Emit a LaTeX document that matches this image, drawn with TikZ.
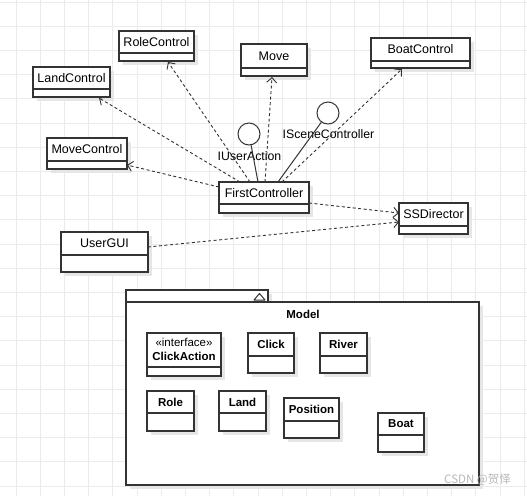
\documentclass[tikz,border=0pt]{standalone}
\usepackage{fontspec}
\setmainfont{Liberation Sans}
\newfontfamily\cjk{Noto Sans CJK SC}
\usetikzlibrary{arrows.meta,calc}
\definecolor{linec}{HTML}{333333}
\definecolor{gridc}{HTML}{EBEBEB}
\definecolor{shadowc}{HTML}{E6E6E6}
\newcommand\umlcls[8][cname]{%
  \fill[shadowc] ({#3+4},{#4+4}) rectangle ({#5+4},{#6+4});
  \node[box, anchor=north west, minimum width={(#5)-(#3)}, minimum height={(#6)-(#4)}] (#2) at (#3,#4) {};
  \draw[boxln] (#3,#7) -- (#5,#7);
  \node[#1] (#2-t) at ({(#3+#5)/2},{(#4+#7)/2}) {#8};
}
\begin{document}
\begin{tikzpicture}[x=1pt,y=-1pt,
  box/.style={draw=linec, fill=white, line width=1.2pt, inner sep=0pt, outer sep=0pt},
  boxln/.style={draw=linec, line width=1.2pt},
  cname/.style={font=\bfseries\fontsize{11.5}{13}\selectfont, text=black, inner sep=0pt},
  cnr/.style={font=\fontsize{12.5}{14}\selectfont, text=black, inner sep=0pt},
  lbl/.style={font=\fontsize{12.3}{14}\selectfont, text=black, inner sep=0pt},
  dep/.style={draw=linec, line width=0.9pt, dash pattern=on 3pt off 2.5pt, -{Straight Barb[length=5pt,width=10pt]}},
  lol/.style={draw=linec, line width=1pt, fill=white, circle, minimum size=22pt, inner sep=0pt},
  gridln/.style={draw=gridc, line width=0.8pt}]
\useasboundingbox (0,0) rectangle (527,496);
\fill[white] (0,0) rectangle (527,496);
% grid
\foreach \i in {0,...,21} \draw[gridln] ({16+24.2*\i},0) -- ({16+24.2*\i},496);
\foreach \j in {0,...,20} \draw[gridln] (0,{2+24.2*\j}) -- (527,{2+24.2*\j});
% classes
\umlcls[cnr]{rc}{119}{31}{194}{61}{53}{RoleControl}
\umlcls[cnr]{lc}{33}{67}{110}{97}{89}{LandControl}
\umlcls[cnr]{mv}{241}{44}{307}{76}{68}{Move}
\umlcls[cnr]{bc}{371}{38}{470}{68}{61}{BoatControl}
\umlcls[cnr]{mc}{47}{138}{127}{169}{161}{MoveControl}
\umlcls[cnr]{fc}{219}{182}{309}{213}{204}{FirstController}
\umlcls[cnr]{ss}{399}{203}{468}{234}{226}{SSDirector}
\umlcls[cnr]{ug}{61}{232}{148}{272}{255}{UserGUI}
% lollipops
\node[lol] (iua) at (249,134) {};
\node[lbl] (iual) at (249.5,156) {IUserAction};
\node[lol] (isc) at (328,113) {};
\node[lbl] (iscl) at (328.5,134) {ISceneController};
\draw[draw=linec, line width=1pt] (iua) -- ($(fc.north west)+(39,0)$);
\draw[draw=linec, line width=1pt] (isc) -- ($(fc.north west)+(59,0)$);
% dependencies
\draw[dep] ($(fc.north west)+(31,0)$) -- ($(rc.south west)+(49,1)$);
\draw[dep] ($(fc.north west)+(21,0)$) -- ($(lc.south west)+(66,1)$);
\draw[dep] ($(fc.north west)+(0,5)$) -- ($(mc.south east)+(0,-4)$);
\draw[dep] ($(fc.north west)+(46,0)$) -- ($(mv.south west)+(31,1)$);
\draw[dep] ($(fc.north west)+(63,0)$) -- ($(bc.south west)+(31,1)$);
\draw[dep] ($(fc.north east)+(0,21)$) -- ($(ss.north west)+(0,10)$);
\draw[dep] ($(ug.north east)+(0,15)$) -- ($(ss.north west)+(0,19)$);
% package
\fill[shadowc] (130,294) rectangle (272,306);
\fill[shadowc] (130,306) rectangle (483,489);
\node[box, anchor=north west, minimum width=142pt, minimum height=12pt] (tab) at (126,290) {};
\node[box, anchor=north west, minimum width=353pt, minimum height=183pt] (pkg) at (126,302) {};
\draw[draw=linec, line width=1pt, line join=round] (254,300) -- (259.5,293.5) -- (265,300) -- cycle;
\node[cname] (pkgl) at (303,314) {Model};
\fill[shadowc] (151,337) rectangle (225,380);
\node[box, anchor=north west, minimum width=74pt, minimum height=43pt] (ca) at (147,333) {};
\draw[boxln] (147,367) -- (221,367);
\node[lbl, font=\fontsize{11.5}{13}\selectfont] (ca-s) at (184,342) {«interface»};
\node[cname] (ca-t) at (184,356) {ClickAction};
\umlcls{ck}{248}{333}{294}{373}{356}{Click}
\umlcls{rv}{320}{333}{367}{373}{356}{River}
\umlcls{rl}{147}{391}{194}{431}{413}{Role}
\umlcls{ld}{219}{391}{266}{431}{413}{Land}
\umlcls{ps}{284}{398}{339}{438}{421}{Position}
\umlcls{bt}{378}{413}{424}{452}{435}{Boat}
% watermark
\node[text=gray!55, font=\cjk\fontsize{11.5}{13}\selectfont, anchor=east, inner sep=0pt] (wm) at (511,480) {CSDN @贺怿};
\end{tikzpicture}
\end{document}
